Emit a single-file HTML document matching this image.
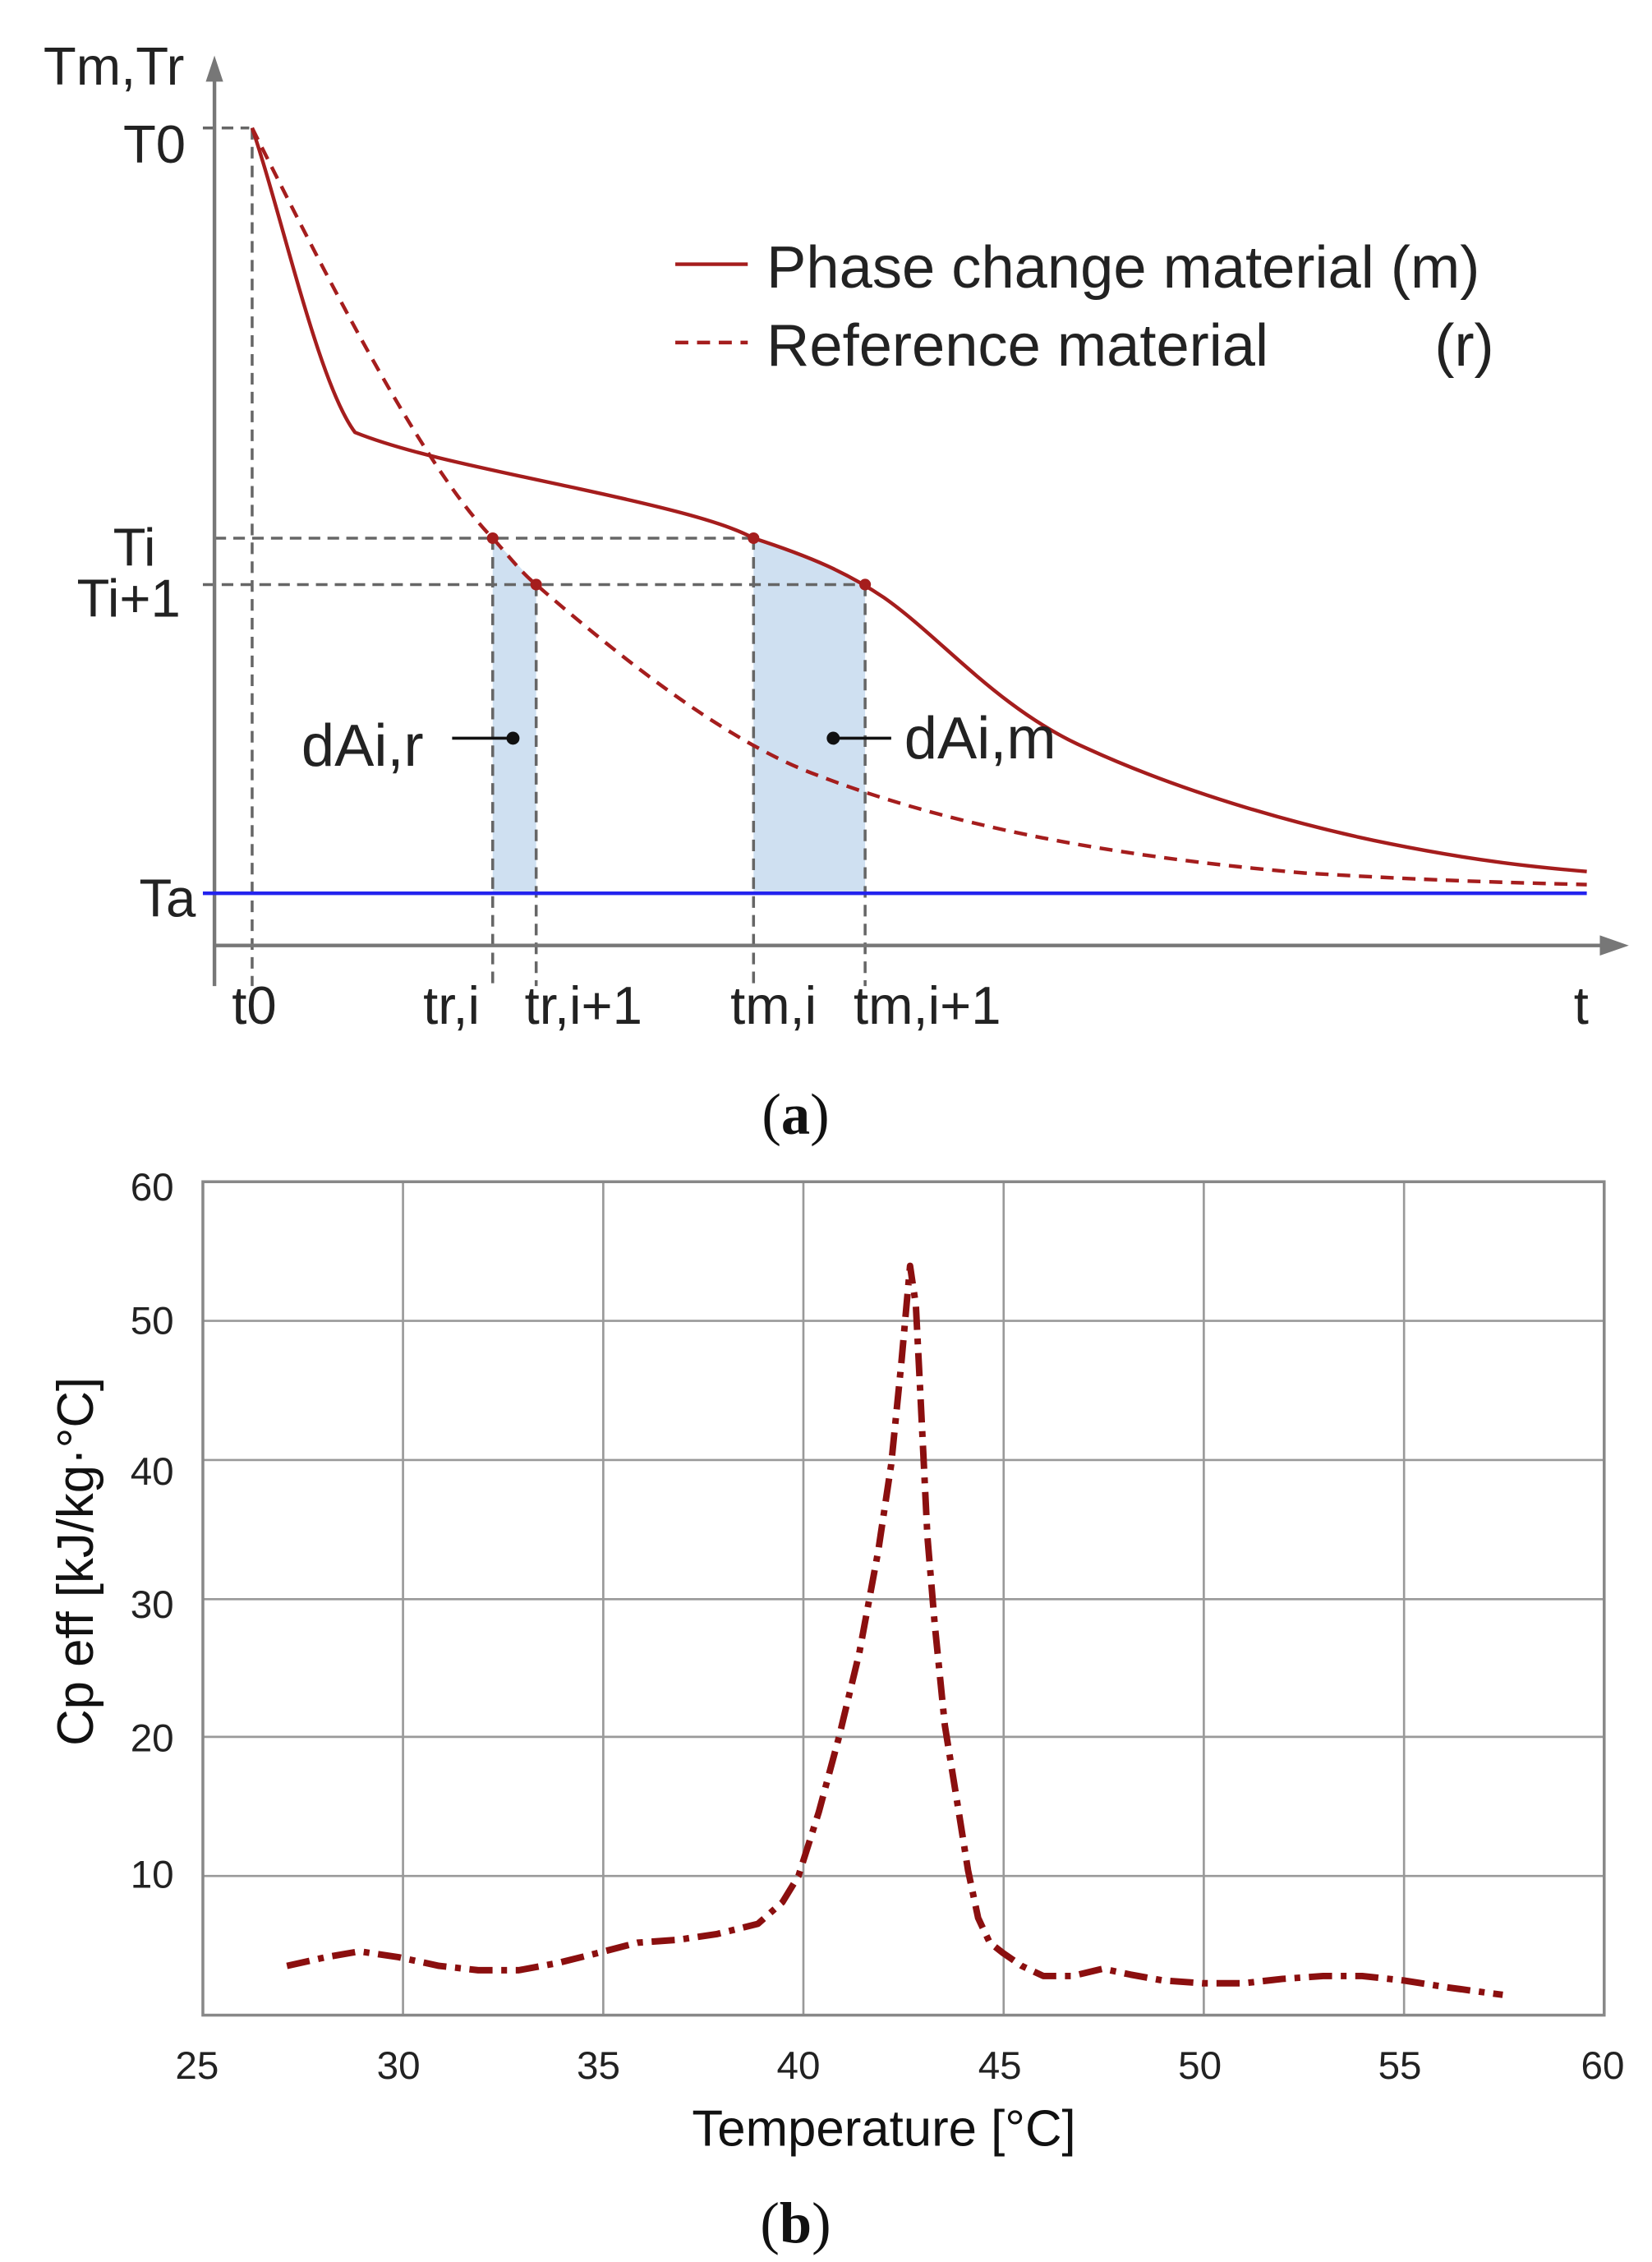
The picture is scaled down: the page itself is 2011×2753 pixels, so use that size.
<!DOCTYPE html>
<html><head><meta charset="utf-8"><style>html,body{margin:0;padding:0;background:#fff}svg{display:block}</style></head>
<body>
<svg width="2011" height="2753" viewBox="0 0 1140 1560" xmlns="http://www.w3.org/2000/svg" font-family="Liberation Sans, sans-serif">
<!-- Panel a -->
<path d="M340,371 L370,403 L370,616 L340,616 Z" fill="#cfe0f1"/>
<path d="M520,371 Q560,384 597,403 L597,616 L520,616 Z" fill="#cfe0f1"/>
<g stroke="#666" stroke-width="2" stroke-dasharray="8,5" fill="none">
<line x1="140" y1="88" x2="172" y2="88"/>
<line x1="174" y1="88" x2="174" y2="680"/>
<line x1="148" y1="371" x2="520" y2="371"/>
<line x1="140" y1="403" x2="597" y2="403"/>
<line x1="340" y1="371" x2="340" y2="680"/>
<line x1="370" y1="403" x2="370" y2="680"/>
<line x1="520" y1="371" x2="520" y2="680"/>
<line x1="597" y1="403" x2="597" y2="680"/>
</g>
<line x1="148" y1="52" x2="148" y2="680" stroke="#777" stroke-width="2.5"/>
<path d="M142,56 L148,38 L154,56 Z" fill="#777"/>
<line x1="148" y1="652" x2="1108" y2="652" stroke="#777" stroke-width="2.5"/>
<path d="M1104,645 L1124,652 L1104,659 Z" fill="#777"/>
<line x1="140" y1="616" x2="1095" y2="616" stroke="#2323ee" stroke-width="2.5"/>
<path d="M174,88 C195,150 220,265 245,298 C280,312 330,322 400,337 C460,350 500,360 520,371 C560,384 585,395 610,412 C650,440 690,490 750,516 C820,548 900,570 960,582 C1020,594 1060,598 1095,601" stroke="#a51d1d" stroke-width="2.5" fill="none"/>
<path d="M174,88 C220,180 290,320 340,371 C350,382 360,395 370,403 C430,455 500,510 560,533 C650,568 760,590 900,602 C1000,608 1060,609 1095,610" stroke="#a51d1d" stroke-width="2.5" stroke-dasharray="9,6" fill="none"/>
<g fill="#a51d1d"><circle cx="340" cy="371" r="4"/><circle cx="370" cy="403" r="4"/><circle cx="520" cy="371" r="4"/><circle cx="597" cy="403" r="4"/></g>
<circle cx="354" cy="509" r="4.5" fill="#111"/><line x1="312" y1="509" x2="354" y2="509" stroke="#111" stroke-width="2"/>
<circle cx="575" cy="509" r="4.5" fill="#111"/><line x1="575" y1="509" x2="615" y2="509" stroke="#111" stroke-width="2"/>
<line x1="466" y1="182" x2="516" y2="182" stroke="#a51d1d" stroke-width="2.5"/>
<line x1="466" y1="236" x2="516" y2="236" stroke="#a51d1d" stroke-width="2.5" stroke-dasharray="9,6"/>
<g font-size="41" fill="#222">
<text x="529" y="198">Phase change material (m)</text>
<text x="529" y="252">Reference material</text>
<text x="990" y="252">(r)</text>
<text x="208" y="528">dAi,r</text>
<text x="624" y="523">dAi,m</text>
</g>
<g font-size="37" fill="#222">
<text x="30" y="58">Tm,Tr</text>
<text x="85" y="112">T0</text>
<text x="78" y="390">Ti</text>
<text x="53" y="425">Ti+1</text>
<text x="96" y="632">Ta</text>
<text x="160" y="706">t0</text>
<text x="292" y="706">tr,i</text>
<text x="362" y="706">tr,i+1</text>
<text x="504" y="706">tm,i</text>
<text x="589" y="706">tm,i+1</text>
<text x="1086" y="706">t</text>
</g>
<text x="549" y="782" font-family="Liberation Serif, serif" font-size="40" text-anchor="middle" fill="#111">(<tspan font-weight="bold">a</tspan>)</text>
<!-- Panel b -->
<g stroke="#999" stroke-width="1.5">
<line x1="278.1" y1="815" x2="278.1" y2="1390"/><line x1="416.3" y1="815" x2="416.3" y2="1390"/><line x1="554.4" y1="815" x2="554.4" y2="1390"/><line x1="692.6" y1="815" x2="692.6" y2="1390"/><line x1="830.7" y1="815" x2="830.7" y2="1390"/><line x1="968.9" y1="815" x2="968.9" y2="1390"/>
<line x1="140" y1="911" x2="1107" y2="911"/><line x1="140" y1="1007" x2="1107" y2="1007"/><line x1="140" y1="1103" x2="1107" y2="1103"/><line x1="140" y1="1198" x2="1107" y2="1198"/><line x1="140" y1="1294" x2="1107" y2="1294"/>
</g>
<rect x="140" y="815" width="967" height="575" fill="none" stroke="#888" stroke-width="2"/>
<polyline fill="none" stroke="#8b0f0f" stroke-width="4.5" stroke-linejoin="round" stroke-dasharray="16,6,4,6" points="198,1356 225,1350 248,1346 275,1350 303,1356 330,1359 358,1359 385,1354 413,1347 440,1340 468,1338 495,1334 523,1327 540,1312 551,1294 565,1250 579,1198 593,1140 606,1070 615,1010 622,940 628,873 632,900 635,959 640,1060 645,1120 652,1190 661,1246 668,1290 675,1323 683,1340 692,1347 705,1356 720,1363 740,1363 761,1358 780,1362 802,1366 830,1368 858,1368 885,1365 913,1363 940,1363 968,1366 1000,1371 1037,1376"/>
<g font-size="27" fill="#222" text-anchor="end">
<text x="120" y="828">60</text><text x="120" y="920">50</text><text x="120" y="1024">40</text><text x="120" y="1116">30</text><text x="120" y="1208">20</text><text x="120" y="1302">10</text>
</g>
<g font-size="27" fill="#222" text-anchor="middle">
<text x="136" y="1434">25</text><text x="275" y="1434">30</text><text x="413" y="1434">35</text><text x="551" y="1434">40</text><text x="690" y="1434">45</text><text x="828" y="1434">50</text><text x="966" y="1434">55</text><text x="1106" y="1434">60</text>
</g>
<text x="610" y="1480" font-size="35" text-anchor="middle" fill="#111">Temperature [°C]</text>
<text transform="translate(64,1077) rotate(-90)" font-size="35" text-anchor="middle" fill="#111">Cp eff [kJ/kg·°C]</text>
<text x="549" y="1547" font-family="Liberation Serif, serif" font-size="40" text-anchor="middle" fill="#111">(<tspan font-weight="bold">b</tspan>)</text>
</svg>
</body></html>
